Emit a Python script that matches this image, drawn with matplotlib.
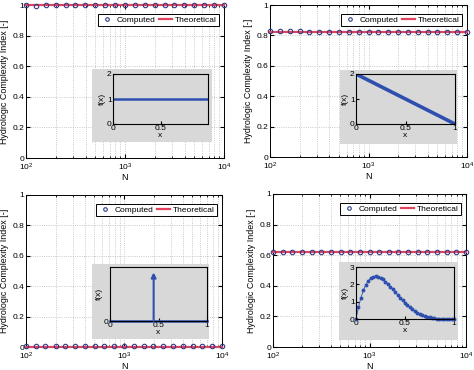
import numpy as np
import matplotlib
matplotlib.use("Agg")
import matplotlib.pyplot as plt

plt.rcParams['font.family'] = ['Liberation Sans', 'DejaVu Sans']

# ---------------- data ----------------
N = [100, 126, 158, 200, 251, 316, 398, 501, 631, 794, 1000,
     1259, 1585, 1995, 2512, 3162, 3981, 5012, 6310, 7943, 10000]

computed_uniform = [0.998, 0.992, 0.997, 0.998, 0.998, 0.998, 0.998, 0.998, 0.998, 0.998, 0.998,
                    0.998, 0.998, 0.998, 0.998, 0.998, 0.998, 0.998, 0.998, 0.998, 0.998]
theoretical_uniform = 1.0

computed_linear = [0.830, 0.829, 0.826, 0.826, 0.825, 0.825, 0.825, 0.824, 0.824, 0.824, 0.824,
                   0.824, 0.824, 0.824, 0.824, 0.824, 0.824, 0.824, 0.824, 0.824, 0.824]
theoretical_linear = 0.824

computed_delta = [0.008, 0.007, 0.006, 0.006, 0.005, 0.005, 0.005, 0.004, 0.004, 0.004, 0.004,
                  0.004, 0.004, 0.004, 0.004, 0.004, 0.004, 0.004, 0.004, 0.004, 0.004]
theoretical_delta = 0.0

computed_beta = [0.621, 0.620, 0.619, 0.619, 0.619, 0.619, 0.619, 0.619, 0.619, 0.619, 0.619,
                 0.619, 0.619, 0.619, 0.619, 0.619, 0.619, 0.619, 0.619, 0.619, 0.619]
theoretical_beta = 0.618

# inset pdfs
uni_x = [0.0, 1.0]
uni_f = [1.0, 1.0]

lin_x = [0.0, 1.0]
lin_f = [2.0, 0.0]

delta_pos = 0.45
delta_height = 0.9

beta_x = [0.0, 0.025, 0.05, 0.075, 0.1, 0.125, 0.15, 0.175, 0.2, 0.225, 0.25,
          0.275, 0.3, 0.325, 0.35, 0.375, 0.4, 0.425, 0.45, 0.475, 0.5,
          0.525, 0.55, 0.575, 0.6, 0.625, 0.65, 0.675, 0.7, 0.725, 0.75,
          0.775, 0.8, 0.825, 0.85, 0.875, 0.9, 0.925, 0.95, 0.975, 1.0]
beta_f = [0.0, 0.68, 1.22, 1.65, 1.97, 2.20, 2.35, 2.43, 2.46, 2.44, 2.37,
          2.28, 2.16, 2.02, 1.87, 1.72, 1.56, 1.39, 1.24, 1.08, 0.94,
          0.80, 0.68, 0.56, 0.46, 0.37, 0.29, 0.23, 0.17, 0.12, 0.09,
          0.06, 0.04, 0.02, 0.01, 0.006, 0.003, 0.001, 0.0, 0.0, 0.0]

# ---------------- styling ----------------
W, H = 474, 370
fig = plt.figure(figsize=(W / 100, H / 100), dpi=100)
fig.patch.set_facecolor('white')

RED = '#e2445e'
MK = '#2f3c84'
BLUE = '#2f4fb0'
GREY = '#d8d8d8'
FS = 6


def frac(l, t, r, b):
    return [l / W, 1 - b / H, (r - l) / W, (b - t) / H]


def main_axes(rect, comp, theo):
    ax = fig.add_axes(frac(*rect))
    ax.set_xscale('log')
    ax.set_xlim(100, 10000)
    ax.set_ylim(0, 1)
    ax.set_yticks([0, 0.2, 0.4, 0.6, 0.8, 1.0])
    ax.set_yticklabels(['0', '0.2', '0.4', '0.6', '0.8', '1'])
    ax.grid(True, which='major', linestyle=':', color='#b8b8b8', lw=0.6)
    ax.grid(True, which='minor', axis='x', linestyle=':', color='#b8b8b8', lw=0.6)
    ax.tick_params(which='both', direction='in', top=True, right=True, labelsize=FS, pad=1.5)
    ax.tick_params(axis='x', which='major', pad=2.5)
    ax.tick_params(which='major', length=3)
    ax.tick_params(which='minor', length=1.5)
    ax.plot([N[0], N[-1]], [theo, theo], color=RED, lw=1.6, label='Theoretical',
            clip_on=False, zorder=3)
    ax.plot(N, comp, linestyle='none', marker='o', ms=3.2, mfc='none', mec=MK, mew=0.8,
            label='Computed', clip_on=False, zorder=4)
    ax.set_xlabel('N', fontsize=6.5, labelpad=0.5)
    ax.set_ylabel('Hydrologic Complexity Index [-]', fontsize=6.4, labelpad=2)
    for s in ax.spines.values():
        s.set_linewidth(0.7)
    h, l = ax.get_legend_handles_labels()
    leg = ax.legend(h[::-1], l[::-1], ncol=2, loc='upper right',
                    bbox_to_anchor=(0.975, 0.94), borderaxespad=0, fontsize=6.0,
                    fancybox=False, edgecolor='black', framealpha=1,
                    handlelength=1.5, handletextpad=0.4, columnspacing=0.5,
                    borderpad=0.25, markerscale=0.8)
    leg.get_frame().set_linewidth(0.7)
    return ax


def inset(box, rect):
    bl, bt, br, bb = box
    bgax = fig.add_axes(frac(bl, bt, br, bb))
    bgax.set_facecolor(GREY)
    bgax.set_xticks([])
    bgax.set_yticks([])
    for s in bgax.spines.values():
        s.set_visible(False)
    ax = fig.add_axes(frac(*rect))
    ax.set_facecolor(GREY)
    ax.tick_params(direction='in', labelsize=FS, pad=1, length=2)
    for s in ax.spines.values():
        s.set_linewidth(0.8)
    ax.set_xlabel('x', fontsize=FS, labelpad=0)
    ax.set_ylabel('f(x)', fontsize=FS, labelpad=1)
    ax.set_xlim(0, 1)
    return ax


# panel 1
main_axes((26, 5, 224, 158), computed_uniform, theoretical_uniform)
a = inset((92, 69, 212, 142), (113, 74, 208, 124))
a.plot(uni_x, uni_f, color=BLUE, lw=1.8)
a.set_ylim(0, 2)
a.set_yticks([0, 1, 2])
a.set_xticks([0, 0.5])
a.set_xticklabels(['0', '0.5'])

# panel 2
main_axes((270, 5, 467, 157), computed_linear, theoretical_linear)
a = inset((340, 70, 457, 144), (356, 74, 455, 124))
a.plot(lin_x, lin_f, color=BLUE, lw=2.6)
a.set_ylim(0, 2)
a.set_yticks([0, 1, 2])
a.set_xticks([0, 0.5, 1])
a.set_xticklabels(['0', '0.5', '1'])

# panel 3
main_axes((26, 195, 222, 347), computed_delta, theoretical_delta)
a = inset((92, 264, 209, 339), (110, 267, 207, 321))
a.plot([0, 1], [0, 0], color=BLUE, lw=1.8, clip_on=False)
a.annotate('', xy=(delta_pos, delta_height), xytext=(delta_pos, 0),
           arrowprops=dict(arrowstyle='-|>', color=BLUE, lw=1.5,
                           mutation_scale=7, shrinkA=0, shrinkB=0))
a.set_ylim(0, 1)
a.set_yticks([0])
a.set_xticks([0, 0.5, 1])
a.set_xticklabels(['0', '0.5', '1'])

# panel 4
main_axes((273, 194, 466, 347), computed_beta, theoretical_beta)
a = inset((339, 262, 458, 340), (356, 267, 454, 319))
a.plot(beta_x, beta_f, linestyle='-', color=BLUE, lw=0.6, marker='o', ms=1.8,
       mfc=BLUE, mec=BLUE, clip_on=False)
a.set_ylim(0, 3)
a.set_yticks([0, 1, 2, 3])
a.set_xticks([0, 0.5, 1])
a.set_xticklabels(['0', '0.5', '1'])

fig.savefig('out.png', dpi=100)
